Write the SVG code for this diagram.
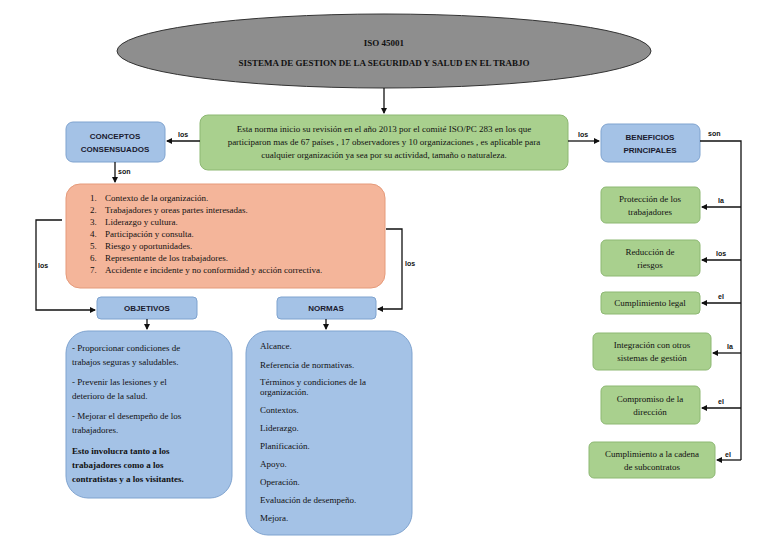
<svg xmlns="http://www.w3.org/2000/svg" width="768" height="543" viewBox="0 0 768 543">
<style>
.s{font-family:"Liberation Serif",serif;font-size:9px;fill:#111}
.h{font-family:"Liberation Sans",sans-serif;font-size:8px;font-weight:bold;fill:#1a1a2e;text-anchor:middle}
.l{font-family:"Liberation Sans",sans-serif;font-size:7px;font-weight:bold;fill:#111}
.c{text-anchor:middle}
.blue{fill:#a4c2e6;stroke:#7fa3cf;stroke-width:1}
.grn{fill:#a9d08e;stroke:#8db873;stroke-width:1}
.ln{fill:none;stroke:#111;stroke-width:1.3}
</style>
<defs><marker id="a" markerWidth="6" markerHeight="6" refX="5" refY="3" orient="auto" markerUnits="userSpaceOnUse"><path d="M0,0L6,3L0,6z" fill="#111"/></marker></defs>
<rect width="768" height="543" fill="#fff"/>
<g id="title"><ellipse cx="384" cy="51" rx="267" ry="37" fill="#8e8e8e" stroke="#333" stroke-width="1"/>
<text x="384" y="46" class="s c" font-weight="bold" font-size="10">ISO 45001</text>
<text x="384" y="66" class="s c" font-weight="bold" font-size="10">SISTEMA DE GESTION DE LA SEGURIDAD Y SALUD EN EL TRABJO</text></g>
<g id="intro"><rect x="200" y="115" width="368" height="55" rx="8" class="grn"/>
<text class="s c"><tspan x="384" y="132">Esta norma inicio su revisión en el año 2013 por el comité ISO/PC 283 en los que</tspan><tspan x="384" y="145">participaron mas de 67 países , 17 observadores y 10 organizaciones , es aplicable para</tspan><tspan x="384" y="158">cualquier organización ya sea por su actividad, tamaño o naturaleza.</tspan></text></g>
<g id="conceptos"><rect x="66" y="122" width="99" height="40" rx="7" class="blue"/>
<text class="h"><tspan x="115" y="139">CONCEPTOS</tspan><tspan x="115" y="152">CONSENSUADOS</tspan></text></g>
<g id="lista"><rect x="66" y="184" width="319" height="104" rx="14" fill="#f4b59a" stroke="#e59a7a"/>
<text class="s"><tspan x="90" y="201">1.</tspan><tspan x="90" y="213">2.</tspan><tspan x="90" y="225">3.</tspan><tspan x="90" y="237">4.</tspan><tspan x="90" y="249">5.</tspan><tspan x="90" y="261">6.</tspan><tspan x="90" y="273">7.</tspan></text>
<text class="s"><tspan x="105" y="201">Contexto de la organización.</tspan><tspan x="105" y="213">Trabajadores y oreas partes interesadas.</tspan><tspan x="105" y="225">Liderazgo y cultura.</tspan><tspan x="105" y="237">Participación y consulta.</tspan><tspan x="105" y="249">Riesgo y oportunidades.</tspan><tspan x="105" y="261">Representante de los trabajadores.</tspan><tspan x="105" y="273">Accidente e incidente y no conformidad y acción correctiva.</tspan></text></g>
<g id="objetivos"><rect x="97" y="297" width="100" height="22" rx="4" class="blue"/><text x="147" y="311" class="h">OBJETIVOS</text></g>
<g id="normas"><rect x="277" y="297" width="99" height="22" rx="4" class="blue"/><text x="326" y="311" class="h">NORMAS</text></g>
<g id="objetivos-list"><rect x="66" y="331" width="166" height="167" rx="22" class="blue"/>
<text class="s" font-size="9.5"><tspan x="72" y="351">- Proporcionar condiciones de</tspan><tspan x="72" y="365">trabajos seguras y saludables.</tspan><tspan x="72" y="385">- Prevenir las lesiones y el</tspan><tspan x="72" y="399">deterioro de la salud.</tspan><tspan x="72" y="419">- Mejorar el desempeño de los</tspan><tspan x="72" y="433">trabajadores.</tspan></text>
<text class="s" font-size="9.5" font-weight="bold"><tspan x="72" y="454">Esto involucra tanto a los</tspan><tspan x="72" y="468">trabajadores como a los</tspan><tspan x="72" y="482">contratistas y a los visitantes.</tspan></text></g>
<g id="normas-list"><rect x="246" y="331" width="166" height="204" rx="22" class="blue"/>
<text class="s" font-size="8"><tspan x="260" y="349">Alcance.</tspan><tspan x="260" y="368">Referencia de normativas.</tspan><tspan x="260" y="385">Términos y condiciones de la</tspan><tspan x="260" y="395">organización.</tspan><tspan x="260" y="413">Contextos.</tspan><tspan x="260" y="431">Liderazgo.</tspan><tspan x="260" y="449">Planificación.</tspan><tspan x="260" y="467">Apoyo.</tspan><tspan x="260" y="485">Operación.</tspan><tspan x="260" y="503">Evaluación de desempeño.</tspan><tspan x="260" y="521">Mejora.</tspan></text></g>
<g id="beneficios"><rect x="601" y="124" width="99" height="38" rx="7" class="blue"/>
<text class="h"><tspan x="650" y="140">BENEFICIOS</tspan><tspan x="650" y="153">PRINCIPALES</tspan></text></g>
<g id="b1"><rect x="601" y="187" width="99" height="36" rx="5" class="grn"/><text class="s c"><tspan x="650" y="202">Protección de los</tspan><tspan x="650" y="215">trabajadores</tspan></text></g>
<g id="b2"><rect x="601" y="240" width="99" height="36" rx="5" class="grn"/><text class="s c"><tspan x="650" y="255">Reducción de</tspan><tspan x="650" y="268">riesgos</tspan></text></g>
<g id="b3"><rect x="601" y="292" width="99" height="22" rx="4" class="grn"/><text x="650" y="306" class="s c">Cumplimiento legal</text></g>
<g id="b4"><rect x="593" y="333" width="118" height="37" rx="5" class="grn"/><text class="s c"><tspan x="652" y="348">Integración con otros</tspan><tspan x="652" y="361">sistemas de gestión</tspan></text></g>
<g id="b5"><rect x="601" y="386" width="99" height="38" rx="5" class="grn"/><text class="s c"><tspan x="650" y="402">Compromiso de la</tspan><tspan x="650" y="415">dirección</tspan></text></g>
<g id="b6"><rect x="589" y="442" width="126" height="36" rx="5" class="grn"/><text class="s c"><tspan x="652" y="457">Cumplimiento a la cadena</tspan><tspan x="652" y="470">de subcontratos</tspan></text></g>
<g id="connectors">
<path class="ln" d="M384,88V113" marker-end="url(#a)"/>
<path class="ln" d="M200,141H167" marker-end="url(#a)"/><text x="178" y="137" class="l">los</text>
<path class="ln" d="M115,162V182" marker-end="url(#a)"/><text x="118" y="174" class="l">son</text>
<path class="ln" d="M62,220H36V310H95" marker-end="url(#a)"/><text x="38" y="268" class="l">los</text>
<path class="ln" d="M386,229H402V309H378" marker-end="url(#a)"/><text x="405" y="266" class="l">los</text>
<path class="ln" d="M147,319V329" marker-end="url(#a)"/>
<path class="ln" d="M326,319V329" marker-end="url(#a)"/>
<path class="ln" d="M568,141H599" marker-end="url(#a)"/><text x="578" y="137" class="l">los</text>
<path class="ln" d="M700,141H741V460"/><text x="708" y="136" class="l">son</text>
<path class="ln" d="M741,207H702" marker-end="url(#a)"/><text x="718" y="203" class="l">la</text>
<path class="ln" d="M741,260H702" marker-end="url(#a)"/><text x="716" y="256" class="l">los</text>
<path class="ln" d="M741,303H702" marker-end="url(#a)"/><text x="718" y="299" class="l">el</text>
<path class="ln" d="M741,353H713" marker-end="url(#a)"/><text x="727" y="349" class="l">la</text>
<path class="ln" d="M741,408H702" marker-end="url(#a)"/><text x="718" y="404" class="l">el</text>
<path class="ln" d="M741,460H717" marker-end="url(#a)"/><text x="725" y="457" class="l">el</text>
</g>
</svg>
